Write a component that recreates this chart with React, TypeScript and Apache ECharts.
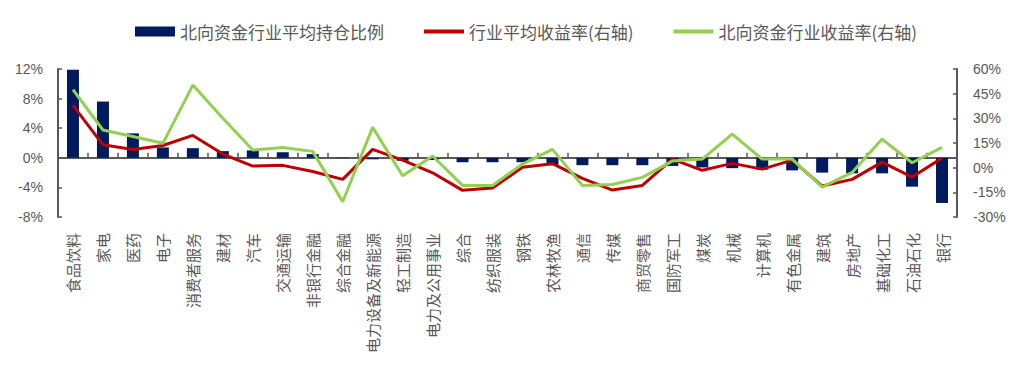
import React, { useEffect, useRef } from "react";
import * as echarts from "echarts";

const categories = [
  "食品饮料", "家电", "医药", "电子", "消费者服务", "建材", "汽车", "交通运输", "非银行金融", "综合金融",
  "电力设备及新能源", "轻工制造", "电力及公用事业", "综合", "纺织服装", "钢铁", "农林牧渔", "通信", "传媒", "商贸零售",
  "国防军工", "煤炭", "机械", "计算机", "有色金属", "建筑", "房地产", "基础化工", "石油石化", "银行",
];

// 北向资金行业平均持仓比例 (%), left axis
const holdingRatio = [
  11.9, 7.6, 3.3, 1.4, 1.3, 0.9, 1.0, 0.75, 0.5, 0.05,
  -0.2, -0.4, -0.3, -0.6, -0.6, -0.6, -1.0, -1.0, -1.0, -1.0,
  -1.1, -1.3, -1.4, -1.6, -1.7, -2.0, -2.1, -2.1, -3.9, -6.1,
];

// 行业平均收益率 (%), right axis
const industryReturn = [
  37.9, 13.9, 11.1, 13.5, 19.6, 8.3, 1.0, 1.4, -2.3, -7.1,
  11.1, 4.6, -3.1, -13.8, -12.4, 0.2, 2.4, -6.5, -13.6, -10.8,
  5.2, -1.6, 2.6, -0.9, 4.6, -11.2, -7.1, 3.4, -5.7, 5.8,
];

// 北向资金行业收益率 (%), right axis
const northReturn = [
  47.4, 22.9, 19.0, 14.8, 50.2, 30.0, 10.7, 12.3, 9.9, -20.7,
  24.5, -4.9, 7.1, -10.8, -10.8, 2.2, 11.1, -10.8, -10.2, -5.9,
  4.0, 5.2, 20.4, 5.2, 5.2, -11.8, -2.9, 17.4, 3.0, 12.3,
];

const leftAxisRange = { min: -8, max: 12, interval: 4 };
const rightAxisRange = { min: -30, max: 60, interval: 15 };

const seriesNames = ["北向资金行业平均持仓比例", "行业平均收益率(右轴)", "北向资金行业收益率(右轴)"];

const FONT = '"Noto Sans CJK SC", "Liberation Sans", sans-serif';
const GRAY = "#595959";

export default function App() {
  const ref = useRef<HTMLDivElement>(null);

  useEffect(() => {
    if (!ref.current) return;
    const chart = echarts.init(ref.current, undefined, { renderer: "svg" });
    const axisLine = { show: true, lineStyle: { color: GRAY, width: 2 } };
    const yTick = { show: true, inside: true, length: 4, lineStyle: { color: GRAY, width: 1.5 } };
    chart.setOption({
      animation: false,
      backgroundColor: "#ffffff",
      textStyle: { fontFamily: FONT },
      legend: {
        left: 130,
        top: 18,
        itemGap: 38,
        itemWidth: 40,
        itemHeight: 10,
        textStyle: { fontSize: 17, color: GRAY, fontFamily: FONT },
        data: [
          { name: seriesNames[0], icon: "rect" },
          { name: seriesNames[1], itemStyle: { opacity: 0 }, lineStyle: { width: 4 } },
          { name: seriesNames[2], itemStyle: { opacity: 0 }, lineStyle: { width: 4 } },
        ],
      },
      grid: { left: 58, right: 64, top: 69, bottom: 158, containLabel: false, outerBoundsMode: "none" },
      xAxis: {
        type: "category",
        data: categories,
        axisLine: { ...axisLine, onZero: true },
        axisTick: { show: true, inside: true, length: 5, lineStyle: { color: GRAY, width: 1.5 } },
        axisLabel: {
          rotate: 90,
          interval: 0,
          margin: 16,
          fontSize: 15,
          color: GRAY,
          fontFamily: FONT,
        },
        splitLine: { show: false },
      },
      yAxis: [
        {
          type: "value",
          ...leftAxisRange,
          axisLine,
          axisTick: yTick,
          axisLabel: { formatter: "{value}%", fontSize: 14, color: GRAY, margin: 15, fontFamily: "Liberation Sans, sans-serif" },
          splitLine: { show: false },
        },
        {
          type: "value",
          ...rightAxisRange,
          axisLine,
          axisTick: yTick,
          axisLabel: { formatter: "{value}%", fontSize: 14, color: GRAY, margin: 16, fontFamily: "Liberation Sans, sans-serif" },
          splitLine: { show: false },
        },
      ],
      series: [
        {
          name: seriesNames[0],
          type: "bar",
          yAxisIndex: 0,
          data: holdingRatio,
          barWidth: 12,
          itemStyle: { color: "#001A5E" },
        },
        {
          name: seriesNames[1],
          type: "line",
          yAxisIndex: 1,
          data: industryReturn,
          symbol: "none",
          lineStyle: { color: "#C00000", width: 3 },
          itemStyle: { color: "#C00000" },
        },
        {
          name: seriesNames[2],
          type: "line",
          yAxisIndex: 1,
          data: northReturn,
          symbol: "none",
          lineStyle: { color: "#92D050", width: 3 },
          itemStyle: { color: "#92D050" },
        },
      ],
    });
    return () => chart.dispose();
  }, []);

  return (
    <div
      ref={ref}
      style={{ position: "fixed", left: 0, top: 0, width: 1021, height: 375, background: "#fff" }}
    />
  );
}
